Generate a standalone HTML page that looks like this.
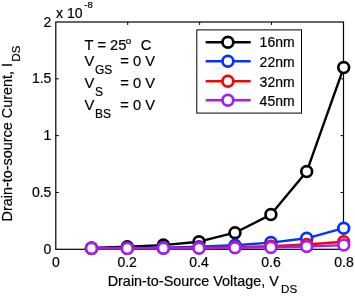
<!DOCTYPE html>
<html><head><meta charset="utf-8">
<style>
html,body{margin:0;padding:0;background:#fff;}
svg{display:block;}
text{font-family:"Liberation Sans",Arial,Helvetica,sans-serif;fill:#000;stroke:#000;stroke-width:0.2px;}
</style></head>
<body>
<svg width="355" height="296" viewBox="0 0 355 296">
<rect width="355" height="296" fill="#fff"/>
<rect x="55.8" y="22.0" width="287.70" height="227.30" fill="none" stroke="#000" stroke-width="1.2"/>
<path d="M127.72 249.3v-3M127.72 22.0v3M199.65 249.3v-3M199.65 22.0v3M271.57 249.3v-3M271.57 22.0v3M55.8 192.48h3M343.5 192.48h-3M55.8 135.65h3M343.5 135.65h-3M55.8 78.82h3M343.5 78.82h-3" stroke="#000" stroke-width="1" fill="none"/>
<g font-size="14">
<text x="56.00" y="266.9" text-anchor="middle">0</text>
<text x="127.12" y="266.9" text-anchor="middle">0.2</text>
<text x="199.05" y="266.9" text-anchor="middle">0.4</text>
<text x="270.97" y="266.9" text-anchor="middle">0.6</text>
<text x="344.00" y="266.9" text-anchor="middle">0.8</text>
<text x="51.4" y="253.90" text-anchor="end">0</text>
<text x="51.4" y="197.08" text-anchor="end">0.5</text>
<text x="51.4" y="140.25" text-anchor="end">1</text>
<text x="51.4" y="83.42" text-anchor="end">1.5</text>
<text x="51.4" y="26.60" text-anchor="end">2</text>
<text x="56" y="18.2">x 10</text>
<text x="84.2" y="8.4" font-size="9.6">-8</text>
</g>
<text x="107.7" y="285.8" font-size="14.4">Drain-to-Source Voltage, V<tspan font-size="11.6" dy="7" dx="2.2">DS</tspan></text>
<text transform="translate(12.2,221.4) rotate(-90)" font-size="14.4">Drain-to-source Curent, I<tspan font-size="11.6" dy="7.4" dx="1.4">DS</tspan></text>
<g font-size="14.7">
<text x="84.6" y="49.8">T = 25<tspan font-size="9.8" dy="-6.1" dx="-0.6">o</tspan><tspan dy="6.1" dx="9.6">C</tspan></text>
<text x="84.6" y="65.8">V<tspan font-size="12" dy="8.3" dx="0.5">GS</tspan></text><text x="120.3" y="65.8">= 0 V</text>
<text x="84.6" y="87.9">V<tspan font-size="12" dy="8.3" dx="0.5">S</tspan></text><text x="120.3" y="87.9">= 0 V</text>
<text x="84.6" y="110.0">V<tspan font-size="12" dy="8.3" dx="0.5">BS</tspan></text><text x="120.3" y="110.0">= 0 V</text>
</g>
<g fill="none" stroke-width="2.4" stroke-linejoin="round">
<polyline stroke="#000000" points="91.5,247.9 127.3,246.8 163.4,245.1 199.0,241.7 235.0,232.7 270.9,214.6 306.7,171.6 343.7,67.6"/>
<polyline stroke="#0033ff" points="91.5,248.3 127.3,248.0 163.4,247.6 199.0,246.7 235.0,245.2 270.9,242.6 306.7,238.3 343.7,228.2"/>
<polyline stroke="#ff0000" points="91.5,248.4 127.3,248.3 163.4,248.2 199.0,247.8 235.0,247.3 270.9,246.2 306.7,244.5 343.7,241.7"/>
<polyline stroke="#a020f0" points="91.5,248.4 127.3,248.4 163.4,248.3 199.0,248.2 235.0,247.8 270.9,247.4 306.7,246.5 343.7,245.1"/>
</g>
<g fill="#fff" stroke-width="2.7">
<g stroke="#000000"><circle cx="91.5" cy="247.9" r="5.4"/><circle cx="127.3" cy="246.8" r="5.4"/><circle cx="163.4" cy="245.1" r="5.4"/><circle cx="199.0" cy="241.7" r="5.4"/><circle cx="235.0" cy="232.7" r="5.4"/><circle cx="270.9" cy="214.6" r="5.4"/><circle cx="306.7" cy="171.6" r="5.4"/><circle cx="343.7" cy="67.6" r="5.4"/></g>
<g stroke="#0033ff"><circle cx="91.5" cy="248.3" r="5.4"/><circle cx="127.3" cy="248.0" r="5.4"/><circle cx="163.4" cy="247.6" r="5.4"/><circle cx="199.0" cy="246.7" r="5.4"/><circle cx="235.0" cy="245.2" r="5.4"/><circle cx="270.9" cy="242.6" r="5.4"/><circle cx="306.7" cy="238.3" r="5.4"/><circle cx="343.7" cy="228.2" r="5.4"/></g>
<g stroke="#ff0000"><circle cx="91.5" cy="248.4" r="5.4"/><circle cx="127.3" cy="248.3" r="5.4"/><circle cx="163.4" cy="248.2" r="5.4"/><circle cx="199.0" cy="247.8" r="5.4"/><circle cx="235.0" cy="247.3" r="5.4"/><circle cx="270.9" cy="246.2" r="5.4"/><circle cx="306.7" cy="244.5" r="5.4"/><circle cx="343.7" cy="241.7" r="5.4"/></g>
<g stroke="#a020f0"><circle cx="91.5" cy="248.4" r="5.4"/><circle cx="127.3" cy="248.4" r="5.4"/><circle cx="163.4" cy="248.3" r="5.4"/><circle cx="199.0" cy="248.2" r="5.4"/><circle cx="235.0" cy="247.8" r="5.4"/><circle cx="270.9" cy="247.4" r="5.4"/><circle cx="306.7" cy="246.5" r="5.4"/><circle cx="343.7" cy="245.1" r="5.4"/></g>
</g>
<rect x="196.8" y="29.9" width="104.7" height="83.2" fill="#fff" stroke="#000" stroke-width="1"/>
<g stroke-width="2.4" fill="#fff">
<g stroke="#000000"><path d="M205.7 42.3h45"/><circle cx="227.9" cy="42.3" r="5.4" stroke-width="2.7"/></g>
<g stroke="#0033ff"><path d="M205.7 61.3h45"/><circle cx="227.9" cy="61.3" r="5.4" stroke-width="2.7"/></g>
<g stroke="#ff0000"><path d="M205.7 81.2h45"/><circle cx="227.9" cy="81.2" r="5.4" stroke-width="2.7"/></g>
<g stroke="#a020f0"><path d="M205.7 100.2h45"/><circle cx="227.9" cy="100.2" r="5.4" stroke-width="2.7"/></g>
</g>
<g font-size="14">
<text x="259.6" y="47.3">16nm</text>
<text x="259.6" y="67.1">22nm</text>
<text x="259.6" y="87.1">32nm</text>
<text x="259.6" y="106.4">45nm</text>
</g>
</svg>
</body></html>
